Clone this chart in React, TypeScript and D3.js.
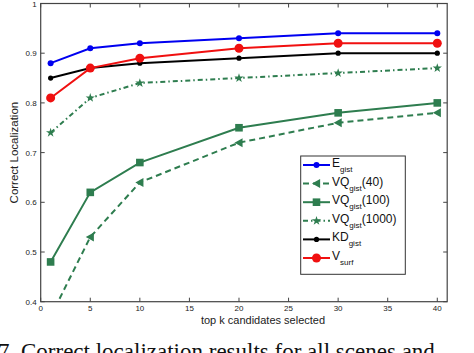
import React, { useEffect, useRef } from 'react';
import * as d3 from 'd3';

// top-k values on the x axis
const kValues = [1, 5, 10, 20, 30, 40];

const eGist = [0.88, 0.91, 0.92, 0.93, 0.94, 0.94];
const vq40 = [0.37, 0.53, 0.64, 0.72, 0.76, 0.78];
const vq100 = [0.48, 0.62, 0.68, 0.75, 0.78, 0.8];
const vq1000 = [0.74, 0.81, 0.84, 0.85, 0.86, 0.87];
const kdGist = [0.85, 0.87, 0.88, 0.89, 0.9, 0.9];
const vSurf = [0.81, 0.87, 0.89, 0.91, 0.92, 0.92];

const xTicks = [0, 5, 10, 15, 20, 25, 30, 35, 40];
const yTicks = [0.4, 0.5, 0.6, 0.7, 0.8, 0.9, 1];

const GREEN = '#2e7d4f';

type Series = {
  name: string;
  sub: string;
  suffix: string;
  values: number[];
  color: string;
  dash: string;
  marker: string;
  size: number;
};

const series: Series[] = [
  { name: 'E', sub: 'gist', suffix: '', values: eGist, color: '#0000f0', dash: '', marker: 'dot', size: 3 },
  { name: 'VQ', sub: 'gist', suffix: '(40)', values: vq40, color: GREEN, dash: '6,4', marker: 'tri', size: 4.5 },
  { name: 'VQ', sub: 'gist', suffix: '(100)', values: vq100, color: GREEN, dash: '', marker: 'square', size: 3.8 },
  { name: 'VQ', sub: 'gist', suffix: '(1000)', values: vq1000, color: GREEN, dash: '5,3,1.5,3', marker: 'star', size: 3.2 },
  { name: 'KD', sub: 'gist', suffix: '', values: kdGist, color: '#000000', dash: '', marker: 'dot', size: 2.6 },
  { name: 'V', sub: 'surf', suffix: '', values: vSurf, color: '#f01010', dash: '', marker: 'dot', size: 4.5 },
];

const drawMarker = (g: any, m: string, x: number, y: number, s: number, color: string) => {
  if (m === 'dot') {
    g.append('circle').attr('cx', x).attr('cy', y).attr('r', s).attr('fill', color);
  } else if (m === 'square') {
    g.append('rect').attr('x', x - s).attr('y', y - s).attr('width', 2 * s).attr('height', 2 * s).attr('fill', color);
  } else if (m === 'tri') {
    g.append('path')
      .attr('d', `M${x - s},${y}L${x + s * 0.8},${y - s}L${x + s * 0.8},${y + s}Z`)
      .attr('fill', color);
  } else if (m === 'star') {
    g.append('path')
      .attr('d', d3.symbol().type(d3.symbolStar).size(s * s * 2.6)())
      .attr('transform', `translate(${x},${y})`)
      .attr('fill', color);
  }
};

const App = () => {
  const svgRef = useRef<SVGSVGElement>(null);

  useEffect(() => {
    const svg = d3.select(svgRef.current);
    svg.selectAll('*').remove();

    const left = 40.7, right = 447.2, top = 3.5, bottom = 301.7;
    const x = d3.scaleLinear().domain([0, 41]).range([left, right]);
    const y = d3.scaleLinear().domain([0.4, 1]).range([bottom, top]);
    const font = 'Liberation Sans, Arial, sans-serif';
    const axisColor = '#444';

    svg.append('rect').attr('width', 474).attr('height', 353).attr('fill', '#fff');

    svg.append('defs').append('clipPath').attr('id', 'plotclip')
      .append('rect').attr('x', left).attr('y', top).attr('width', right - left).attr('height', bottom - top);

    const plot = svg.append('g').attr('clip-path', 'url(#plotclip)');

    series.forEach(s => {
      const line = d3.line<number>().x((d, i) => x(kValues[i])).y(d => y(d));
      plot.append('path')
        .datum(s.values)
        .attr('d', line)
        .attr('fill', 'none')
        .attr('stroke', s.color)
        .attr('stroke-width', 2)
        .attr('stroke-dasharray', s.dash || null);
      s.values.forEach((v, i) => drawMarker(plot, s.marker, x(kValues[i]), y(v), s.size, s.color));
    });

    // axes box
    const axes = svg.append('g');
    axes.append('rect')
      .attr('x', left).attr('y', top).attr('width', right - left).attr('height', bottom - top)
      .attr('fill', 'none').attr('stroke', axisColor).attr('stroke-width', 1.2);

    xTicks.forEach(t => {
      axes.append('line').attr('x1', x(t)).attr('x2', x(t)).attr('y1', bottom).attr('y2', bottom - 4)
        .attr('stroke', axisColor);
      axes.append('line').attr('x1', x(t)).attr('x2', x(t)).attr('y1', top).attr('y2', top + 4)
        .attr('stroke', axisColor);
      axes.append('text').attr('x', x(t)).attr('y', bottom + 9.5)
        .attr('text-anchor', 'middle').attr('font-family', font).attr('font-size', 8).attr('fill', '#222')
        .text(t);
    });

    yTicks.forEach(t => {
      axes.append('line').attr('x1', left).attr('x2', left + 4).attr('y1', y(t)).attr('y2', y(t))
        .attr('stroke', axisColor);
      axes.append('line').attr('x1', right).attr('x2', right - 4).attr('y1', y(t)).attr('y2', y(t))
        .attr('stroke', axisColor);
      axes.append('text').attr('x', left - 4).attr('y', y(t) + 3)
        .attr('text-anchor', 'end').attr('font-family', font).attr('font-size', 8).attr('fill', '#222')
        .text(t);
    });

    svg.append('text')
      .attr('x', 263).attr('y', 324)
      .attr('text-anchor', 'middle').attr('font-family', font).attr('font-size', 11).attr('fill', '#222')
      .text('top k candidates selected');

    svg.append('text')
      .attr('transform', `translate(18, ${(top + bottom) / 2}) rotate(-90)`)
      .attr('text-anchor', 'middle').attr('font-family', font).attr('font-size', 11.5).attr('fill', '#222')
      .text('Correct Localization');

    // legend
    const legend = svg.append('g');
    legend.append('rect')
      .attr('x', 300.7).attr('y', 156).attr('width', 104.6).attr('height', 118.3)
      .attr('fill', '#fff').attr('stroke', '#333').attr('stroke-width', 1);

    series.forEach((s, i) => {
      const ly = 165 + i * 18.6;
      legend.append('line')
        .attr('x1', 303).attr('x2', 330).attr('y1', ly).attr('y2', ly)
        .attr('stroke', s.color).attr('stroke-width', 2)
        .attr('stroke-dasharray', s.dash || null);
      drawMarker(legend, s.marker, 316.5, ly, s.size, s.color);
      const txt = legend.append('text')
        .attr('x', 332).attr('y', ly + 2)
        .attr('font-family', font).attr('font-size', 12).attr('fill', '#111');
      txt.append('tspan').text(s.name);
      txt.append('tspan').attr('dy', 5).attr('font-size', 8).text(s.sub);
      if (s.suffix) txt.append('tspan').attr('dy', -5).text(s.suffix);
    });

    // caption cut off at the bottom of the picture
    svg.append('text')
      .attr('x', -2).attr('y', 359)
      .attr('font-family', 'Liberation Serif, Times New Roman, serif').attr('font-size', 23).attr('fill', '#111')
      .text('7. Correct localization results for all scenes and');
  }, []);

  return (
    <svg
      ref={svgRef}
      width={474}
      height={353}
      style={{ position: 'absolute', left: 0, top: 0 }}
    />
  );
};

export default App;
